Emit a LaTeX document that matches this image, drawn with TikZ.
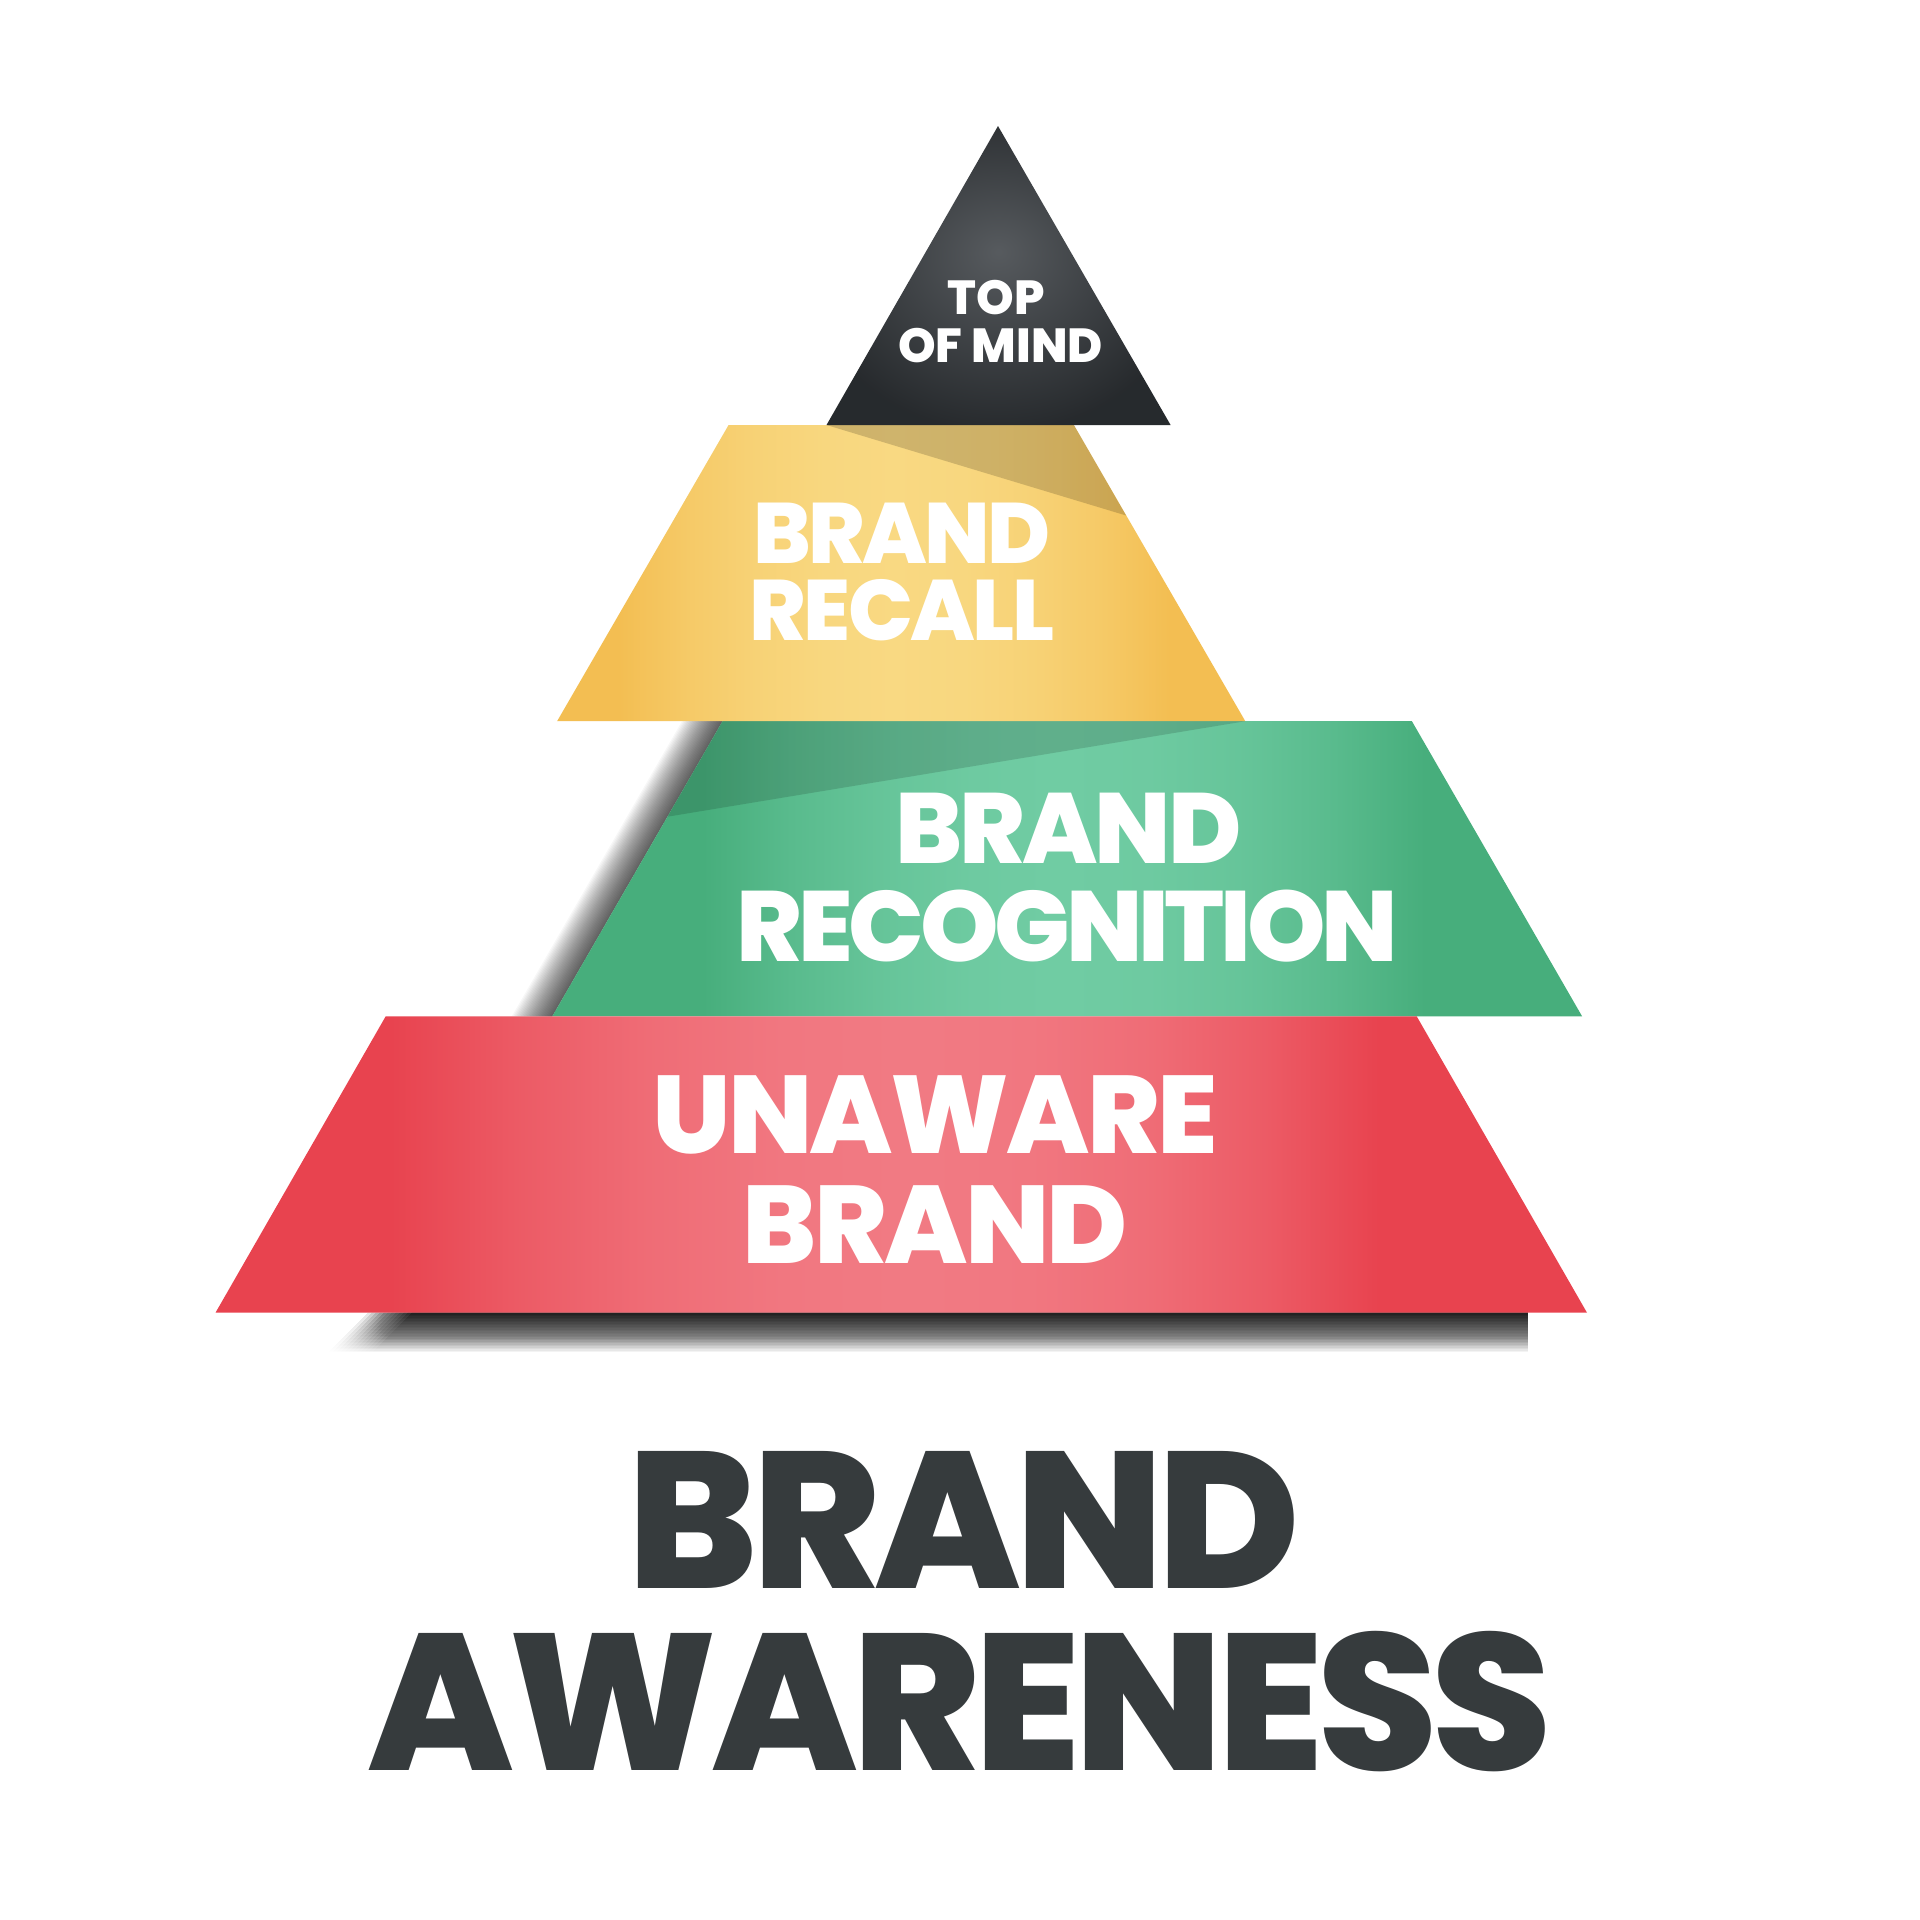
\documentclass[tikz,border=0pt]{standalone}
\usepackage{fontspec}
\setmainfont{Poppins}[BoldFont={Poppins ExtraBold}]
\pgfdeclareradialshading{trish}{\pgfpoint{0bp}{4bp}}{rgb(0bp)=(0.34,0.355,0.37); rgb(28bp)=(0.15,0.163,0.175); rgb(50bp)=(0.15,0.163,0.175)}
\pgfdeclarehorizontalshading{yelsh}{100bp}{rgb(0bp)=(0.953,0.745,0.322); rgb(29.5bp)=(0.953,0.745,0.322); rgb(34.5bp)=(0.9626,0.7909,0.4043); rgb(39.5bp)=(0.9695,0.8238,0.463); rgb(44.5bp)=(0.9736,0.8434,0.4983); rgb(49.5bp)=(0.975,0.85,0.51); rgb(54.5bp)=(0.9736,0.8434,0.4983); rgb(59.5bp)=(0.9695,0.8238,0.463); rgb(64.5bp)=(0.9626,0.7909,0.4043); rgb(69.5bp)=(0.953,0.745,0.322); rgb(100bp)=(0.953,0.745,0.322)}
\pgfdeclarehorizontalshading{grnsh}{100bp}{rgb(0bp)=(0.278,0.682,0.486); rgb(32.3bp)=(0.278,0.682,0.486); rgb(36.6bp)=(0.3489,0.7336,0.5534); rgb(41bp)=(0.3995,0.7705,0.6015); rgb(45.3bp)=(0.4299,0.7926,0.6304); rgb(49.6bp)=(0.44,0.8,0.64); rgb(54.05bp)=(0.4299,0.7926,0.6304); rgb(58.5bp)=(0.3995,0.7705,0.6015); rgb(62.95bp)=(0.3489,0.7336,0.5534); rgb(67.4bp)=(0.278,0.682,0.486); rgb(100bp)=(0.278,0.682,0.486)}
\pgfdeclarehorizontalshading{redsh}{100bp}{rgb(0bp)=(0.91,0.263,0.31); rgb(31.4bp)=(0.91,0.263,0.31); rgb(36.2bp)=(0.9262,0.3579,0.3997); rgb(40.9bp)=(0.9378,0.4258,0.4638); rgb(45.7bp)=(0.9447,0.4664,0.5022); rgb(50.5bp)=(0.947,0.48,0.515); rgb(54.7bp)=(0.9447,0.4664,0.5022); rgb(59bp)=(0.9378,0.4258,0.4638); rgb(63.2bp)=(0.9262,0.3579,0.3997); rgb(67.4bp)=(0.91,0.263,0.31); rgb(100bp)=(0.91,0.263,0.31)}
\definecolor{titlegray}{RGB}{54,59,61}
\tikzset{
  lbl/.style={text=white, inner sep=0pt, anchor=base, text depth=0pt},
  ttl/.style={text=titlegray, inner sep=0pt, anchor=base, text depth=0pt},
}
\newcommand\lblfont[2]{\fontsize{#1}{#1}\selectfont\bfseries\addfontfeatures{LetterSpace=#2}}
\begin{document}
\begin{tikzpicture}[x=0.01cm, y=-0.01cm]
\useasboundingbox[fill=white] (0,0) rectangle (1920,1920);
% shadow left of green layer
\foreach \d in {1.5,3,...,40.5}
  \fill[black, opacity=0.03] (722.5-\d,721.2) -- (552.3-\d,1016.3) -- (552.3,1016.3) -- (722.5,721.2) -- cycle;
% shadow under red layer
\foreach \h in {3,6,...,39}
  \foreach \j in {0,...,11}
    \fill[black, opacity=0.0063] (368+4*\j,1312.7) -- (1528,1312.7) -- (1528,1312.7+\h) -- (368+4*\j-\h,1312.7+\h) -- cycle;
% green layer
\shade[shading=grnsh] (722.5,721.2) -- (1411.9,721.2) -- (1582.1,1016.3) -- (552.3,1016.3) -- cycle;
\fill[black, opacity=0.14] (722.5,721.2) -- (1245.3,721.2) -- (667.4,816.7) -- cycle;
% red layer
\shade[shading=redsh] (385.7,1016.3) -- (1416.7,1016.3) -- (1587,1312.7) -- (215.5,1312.7) -- cycle;
% yellow layer
\shade[shading=yelsh] (728.6,425) -- (1073.9,425) -- (1245.3,721.2) -- (557.1,721.2) -- cycle;
\fill[black, opacity=0.17] (826.5,425) -- (1073.9,425) -- (1126.1,515.5) -- cycle;
% top triangle
\shade[shading=trish] (998,126) -- (1170.6,425) -- (826.5,425) -- cycle;
% labels
\node[lbl, text height=9.6pt, font=\lblfont{13.6}{0}] (top1) at (996,314.7) {TOP};
\node[lbl, text height=9.6pt, font=\lblfont{13.6}{0}] (top2) at (1000.4,362.5) {OF MIND};
\node[lbl, text height=17.2pt, font=\lblfont{24.4}{-3}] (rec1) at (902,563.3) {BRAND};
\node[lbl, text height=17.2pt, font=\lblfont{24.4}{-3}] (rec2) at (902,640.4) {RECALL};
\node[lbl, text height=20pt, font=\lblfont{28.4}{-3}] (rcg1) at (1068.4,863.3) {BRAND};
\node[lbl, text height=20pt, font=\lblfont{28.4}{-4.2}] (rcg2) at (1067.2,961.2) {RECOGNITION};
\node[lbl, text height=22pt, font=\lblfont{31.4}{-2.5}] (una1) at (934.9,1153.5) {UNAWARE};
\node[lbl, text height=22pt, font=\lblfont{31.4}{-2.5}] (una2) at (935.5,1263.7) {BRAND};
\node[ttl, text height=39pt, font=\lblfont{55.3}{-3.2}] (ttl1) at (964.3,1588.2) {BRAND};
\node[ttl, text height=39pt, font=\lblfont{55.3}{-3.2}] (ttl2) at (960,1770.6) {AWARENESS};
\end{tikzpicture}
\end{document}
